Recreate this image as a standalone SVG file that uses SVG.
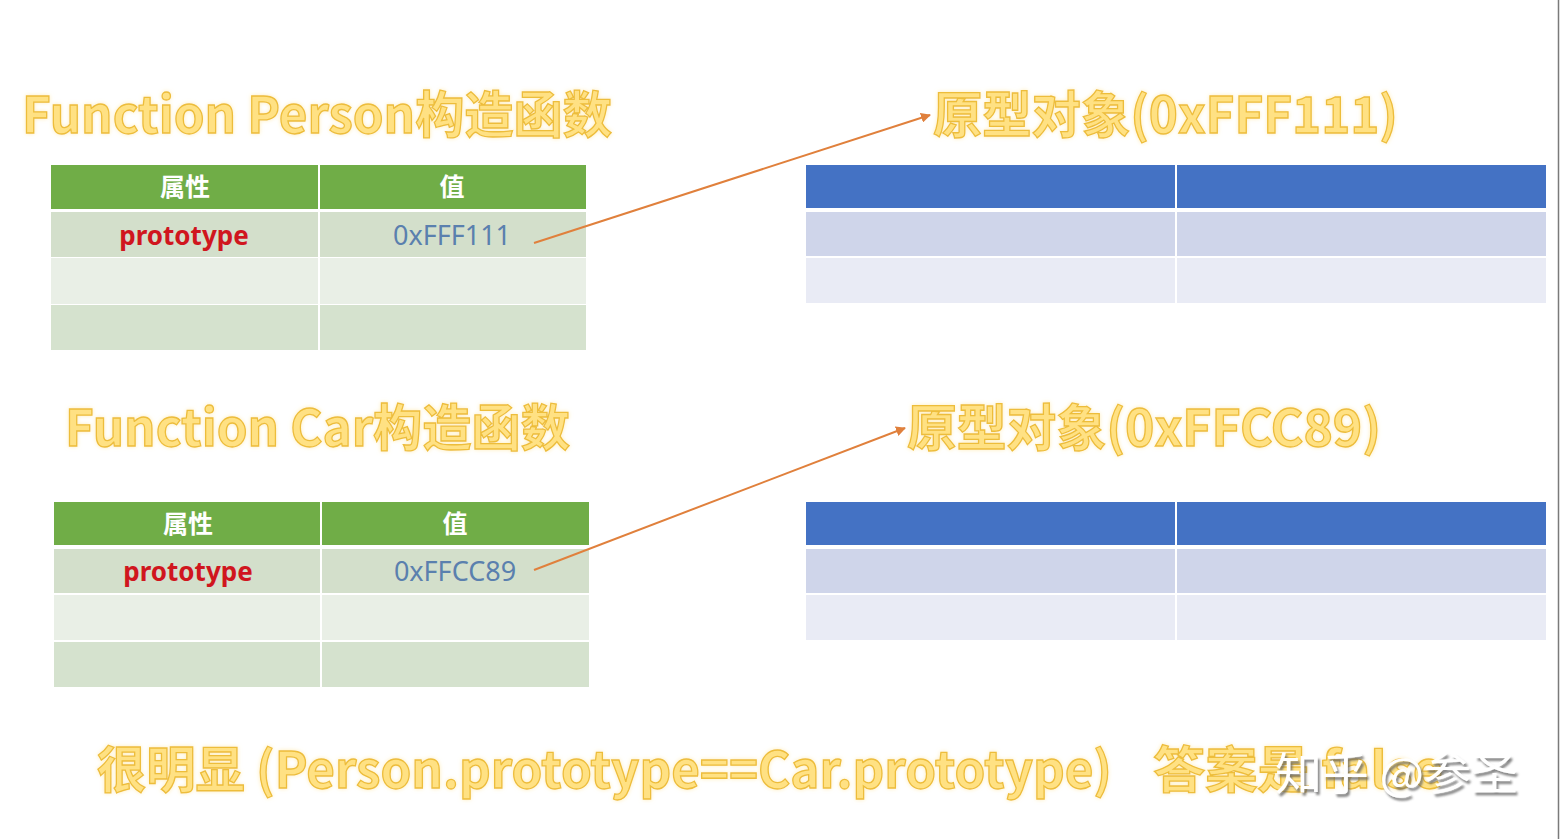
<svg xmlns="http://www.w3.org/2000/svg" width="1560" height="839" viewBox="0 0 1560 839">
  <defs>
    <marker id="arr" viewBox="0 0 10 10" refX="9" refY="5" markerWidth="5" markerHeight="5" orient="auto" markerUnits="strokeWidth">
      <path d="M0,0 L10,5 L0,10 z" fill="#E0803C"/>
    </marker>
    <filter id="glow" x="-5%" y="-20%" width="110%" height="140%">
      <feGaussianBlur in="SourceAlpha" stdDeviation="2" result="b"/>
      <feFlood flood-color="#FFE9A8" flood-opacity="0.8"/>
      <feComposite in2="b" operator="in" result="g"/>
      <feMerge><feMergeNode in="g"/><feMergeNode in="SourceGraphic"/></feMerge>
    </filter>
    <filter id="shadow" x="-10%" y="-20%" width="120%" height="150%">
      <feDropShadow dx="2" dy="3" stdDeviation="1.2" flood-color="#666" flood-opacity="0.8"/>
    </filter>
  </defs>
  <style>
    .title { font-family: "Noto Sans CJK SC", "Noto Sans", sans-serif; font-weight: 700; font-size: 50px; fill: #FFE183; stroke: #EDBD3A; stroke-width: 1.3; }
    .hdr { font-family: "Noto Sans CJK SC", sans-serif; font-weight: 700; font-size: 25px; fill: #FFFFFF; text-anchor: middle; }
    .prop { font-family: "Noto Sans", "Liberation Sans", sans-serif; font-weight: 700; font-size: 26px; fill: #D0161E; text-anchor: middle; }
    .val { font-family: "Noto Sans", "Liberation Sans", sans-serif; font-size: 27px; fill: #5A80AE; text-anchor: middle; }
    .conn { stroke: #E0803C; stroke-width: 2; fill: none; }
    .sep { stroke: #FFFFFF; stroke-width: 2; }
  </style>
  <rect width="1560" height="839" fill="#FFFFFF"/>
  <line x1="1558.5" y1="0" x2="1558.5" y2="839" stroke="#7A7A7A" stroke-width="1.5"/>

  <g id="title-person" filter="url(#glow)">
    <text class="title" x="22" y="133" textLength="590" lengthAdjust="spacingAndGlyphs">Function Person构造函数</text>
  </g>

  <g id="table-person">
    <rect x="51" y="165" width="535" height="44" fill="#70AD47"/>
    <rect x="51" y="212" width="535" height="45" fill="#D3DFCB"/>
    <rect x="51" y="258" width="535" height="46" fill="#E9EFE6"/>
    <rect x="51" y="305" width="535" height="45" fill="#D5E2CE"/>
    <line class="sep" x1="319" y1="165" x2="319" y2="350"/>
    <text class="hdr" x="185" y="196">属性</text>
    <text class="hdr" x="452" y="196">值</text>
    <text class="prop" x="184" y="245">prototype</text>
    <text class="val" x="452" y="245">0xFFF111</text>
  </g>

  <g id="title-proto1" filter="url(#glow)">
    <text class="title" x="933" y="133" textLength="465" lengthAdjust="spacingAndGlyphs">原型对象(0xFFF111)</text>
  </g>

  <g id="table-proto1">
    <rect x="806" y="165" width="740" height="43" fill="#4472C4"/>
    <rect x="806" y="212" width="740" height="44" fill="#CFD5EA"/>
    <rect x="806" y="258" width="740" height="45" fill="#E9EBF5"/>
    <line class="sep" x1="1176" y1="165" x2="1176" y2="303"/>
  </g>

  <g id="title-car" filter="url(#glow)">
    <text class="title" x="65" y="446" textLength="505" lengthAdjust="spacingAndGlyphs">Function Car构造函数</text>
  </g>

  <g id="table-car">
    <rect x="54" y="502" width="535" height="43" fill="#70AD47"/>
    <rect x="54" y="549" width="535" height="44" fill="#D3DFCB"/>
    <rect x="54" y="595" width="535" height="45" fill="#E9EFE6"/>
    <rect x="54" y="642" width="535" height="45" fill="#D5E2CE"/>
    <line class="sep" x1="321" y1="502" x2="321" y2="687"/>
    <text class="hdr" x="188" y="533">属性</text>
    <text class="hdr" x="455" y="533">值</text>
    <text class="prop" x="188" y="581">prototype</text>
    <text class="val" x="455" y="581">0xFFCC89</text>
  </g>

  <g id="title-proto2" filter="url(#glow)">
    <text class="title" x="907" y="446" textLength="474" lengthAdjust="spacingAndGlyphs">原型对象(0xFFCC89)</text>
  </g>

  <g id="table-proto2">
    <rect x="806" y="502" width="740" height="43" fill="#4472C4"/>
    <rect x="806" y="549" width="740" height="44" fill="#CFD5EA"/>
    <rect x="806" y="595" width="740" height="45" fill="#E9EBF5"/>
    <line class="sep" x1="1176" y1="502" x2="1176" y2="640"/>
  </g>

  <g id="connectors">
    <line class="conn" x1="534" y1="243" x2="930" y2="115" marker-end="url(#arr)"/>
    <line class="conn" x1="534" y1="570" x2="905" y2="428" marker-end="url(#arr)"/>
  </g>

  <g id="conclusion" filter="url(#glow)">
    <text class="title" x="97" y="788" textLength="1015" lengthAdjust="spacingAndGlyphs">很明显 (Person.prototype==Car.prototype)</text>
    <text class="title" x="1153" y="788" textLength="290" lengthAdjust="spacingAndGlyphs">答案是 false</text>
  </g>

  <g id="watermark" filter="url(#shadow)">
    <text x="1275" y="790" font-family="Noto Sans CJK SC, sans-serif" font-size="44" fill="#FFFFFF" textLength="243" lengthAdjust="spacingAndGlyphs">知乎 @参圣</text>
  </g>
</svg>
